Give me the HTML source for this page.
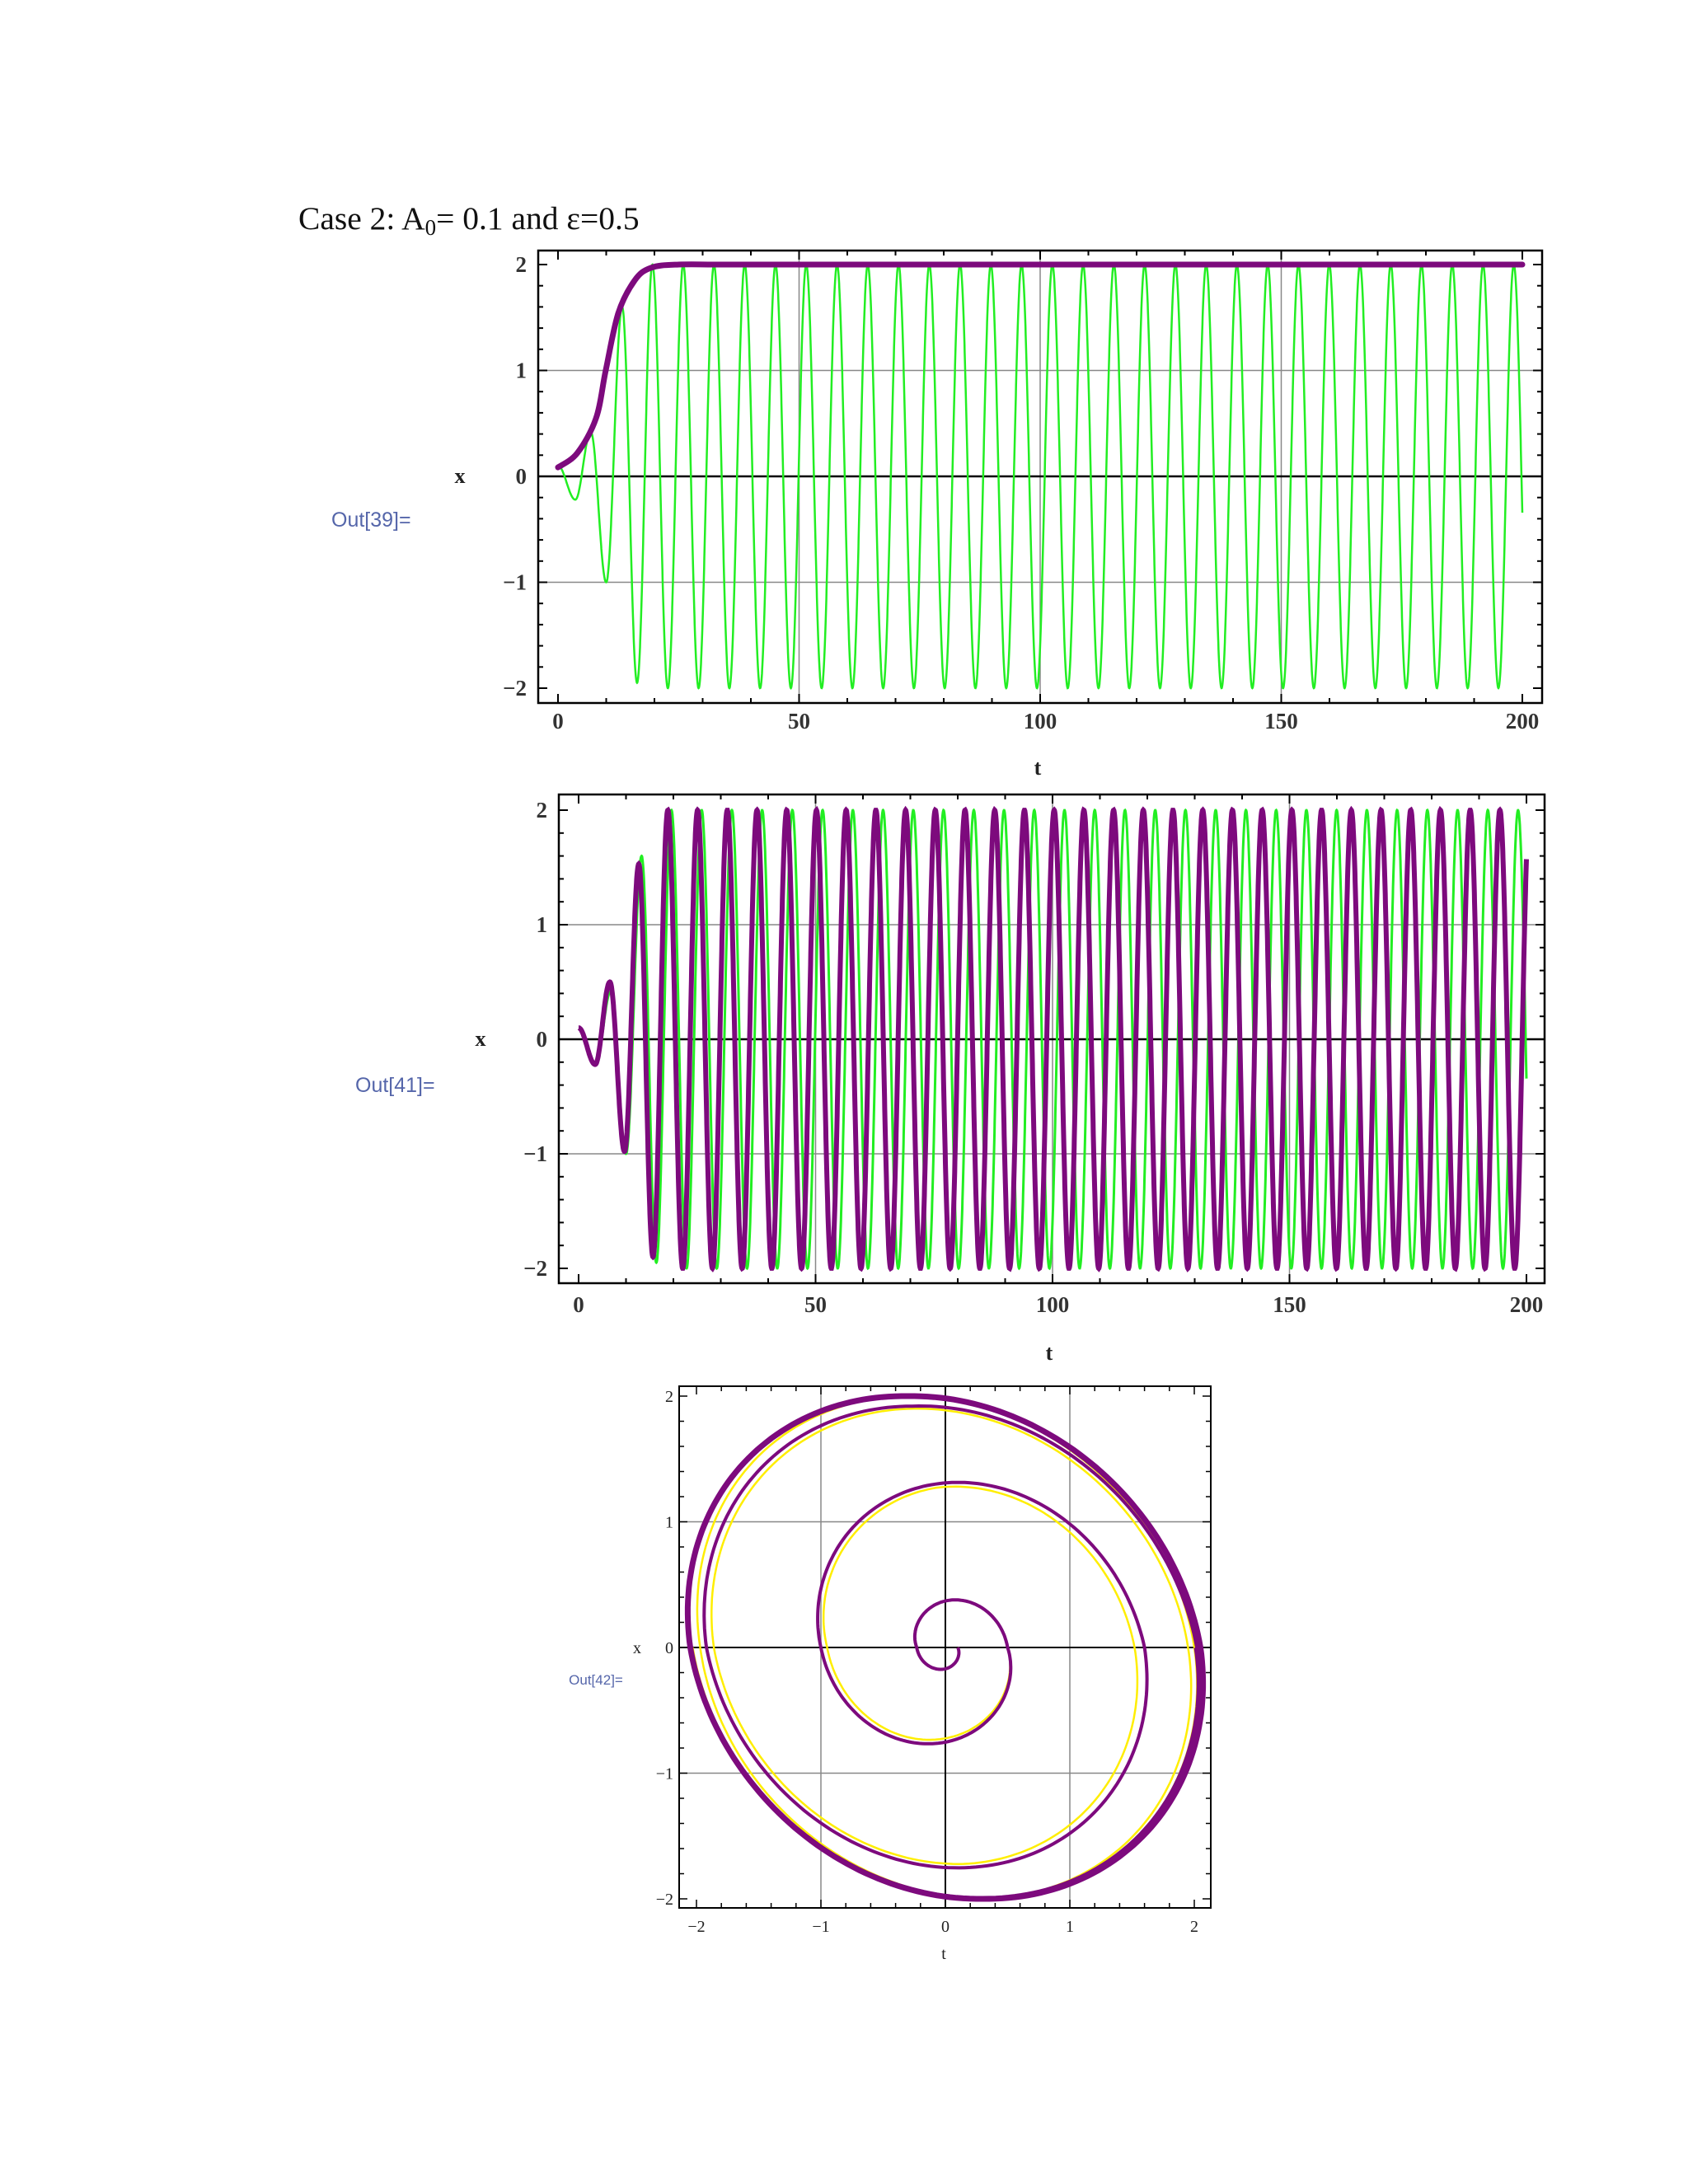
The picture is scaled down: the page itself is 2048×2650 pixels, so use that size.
<!DOCTYPE html>
<html><head><meta charset="utf-8"><style>
html,body{margin:0;padding:0;background:#fff;}
svg{display:block;}
</style></head><body>
<svg id="root" width="2048" height="2650" viewBox="0 0 2048 2650" xmlns="http://www.w3.org/2000/svg">
<rect x="0" y="0" width="2048" height="2650" fill="#fff"/>
<text x="362" y="278" font-family="Liberation Serif, serif" font-size="39.5" fill="#111">Case 2: A<tspan font-size="27" dy="7">0</tspan><tspan dy="-7">= 0.1 and ε=0.5</tspan></text>
</svg>
<script>
// ---------- data ----------
const plot1EnvT = [0, 4, 7.9, 9.9, 12.5, 15.9, 19.3, 25, 35, 60, 100, 150, 200];
const plot1EnvV = [0.085, 0.22, 0.55, 1.0, 1.54, 1.85, 1.97, 2.0, 2.0, 2.0, 2.0, 2.0, 2.0];
const greenTransT = [0, 3.6, 6.8, 10.0, 13.3, 16.4];
const greenTransV = [0.1, -0.22, 0.42, -1.0, 1.6, -1.95];
const greenPeriod = [6.38];
const greenAmp = [2.0];
const purpleTransT = [0, 3.5, 6.6, 9.7, 12.7, 15.7];
const purpleTransV = [0.1, -0.22, 0.5, -0.98, 1.53, -1.9];
const purplePeriod = [6.27];
const purpleAmp = [2.0];
const phasePurpleQuarters = [0.1,0.17,0.23,0.37,0.5,0.75,1.0,1.3,1.6,1.75,1.92,1.92,2.02,2.0,2.05,2.0,2.05,2.0,2.05,2.0,2.05];
const phaseYellowQuarters = [0.1,0.17,0.23,0.37,0.5,0.72,0.95,1.27,1.52,1.72,1.86,1.9,1.95,2.0,1.97,2.0,2.0,2.0,2.03];
const timeTicks = [0, 50, 100, 150, 200];
const timeTickLabels = ['0','50','100','150','200'];
const valueTicks = [-2, -1, 0, 1, 2];
const valueTickLabels = ['\u22122','\u22121','0','1','2'];

const NS = 'http://www.w3.org/2000/svg';
const root = document.getElementById('root');
function mk(tag, attrs, parent) {
  const el = document.createElementNS(NS, tag);
  for (const k in attrs) el.setAttribute(k, attrs[k]);
  (parent || root).appendChild(el);
  return el;
}
function catmull(pts) {
  let d = 'M' + pts[0][0].toFixed(1) + ',' + pts[0][1].toFixed(1);
  for (let i = 0; i < pts.length - 1; i++) {
    const p0 = pts[Math.max(0, i - 1)], p1 = pts[i], p2 = pts[i + 1], p3 = pts[Math.min(pts.length - 1, i + 2)];
    const c1x = p1[0] + (p2[0] - p0[0]) / 6, c1y = p1[1] + (p2[1] - p0[1]) / 6;
    const c2x = p2[0] - (p3[0] - p1[0]) / 6, c2y = p2[1] - (p3[1] - p1[1]) / 6;
    d += 'C' + c1x.toFixed(1) + ',' + c1y.toFixed(1) + ' ' + c2x.toFixed(1) + ',' + c2y.toFixed(1) + ' ' + p2[0].toFixed(1) + ',' + p2[1].toFixed(1);
  }
  return d;
}
function extremaSeries(tT, tV, period, amp, tMax) {
  const T = tT.slice(), V = tV.slice();
  let t = T[T.length - 1], sign = V[V.length - 1] < 0 ? 1 : -1;
  while (t < tMax + period) { t += period / 2; T.push(t); V.push(sign * amp); sign = -sign; }
  return [T, V];
}
function evalExtrema(T, V, t) {
  for (let i = 0; i < T.length - 1; i++) {
    if (t >= T[i] && t <= T[i + 1]) {
      const s = (t - T[i]) / (T[i + 1] - T[i]);
      return V[i] + (V[i + 1] - V[i]) * (1 - Math.cos(Math.PI * s)) / 2;
    }
  }
  return V[V.length - 1];
}

function timePlot(cfg) {
  const g = mk('g', {});
  
  
  const X = t => cfg.x0 + (t - 0) * (cfg.x200 - cfg.x0) / 200;
  const Y = v => cfg.y0 - v * cfg.unitY;
  [50, 100, 150].forEach(t => {
    const gl = mk('line', {x1: X(t), x2: X(t), y1: cfg.top, y2: cfg.bottom, stroke: '#888', 'stroke-width': 1.5}, g);
    
    
  });
  [-1, 1].forEach(v => {
    const gl = mk('line', {x1: cfg.left, x2: cfg.right, y1: Y(v), y2: Y(v), stroke: '#888', 'stroke-width': 1.5}, g);
    
    
  });
  const ax = mk('line', {x1: cfg.left, x2: cfg.right, y1: Y(0), y2: Y(0), stroke: '#000', 'stroke-width': 2.5}, g);
  
  
  for (let t = 0; t <= 200; t += 10) {
    const L = t % 50 === 0 ? 11 : 6;
    const tk1 = mk('line', {x1: X(t), x2: X(t), y1: cfg.bottom, y2: cfg.bottom - L, stroke: '#000', 'stroke-width': 2}, g);
    
    
    const tk2 = mk('line', {x1: X(t), x2: X(t), y1: cfg.top, y2: cfg.top + L, stroke: '#000', 'stroke-width': 2}, g);
    
    
  }
  for (let k = -10; k <= 10; k++) {
    const v = k / 5;
    const L = k % 5 === 0 ? 11 : 6;
    const tk1 = mk('line', {x1: cfg.left, x2: cfg.left + L, y1: Y(v), y2: Y(v), stroke: '#000', 'stroke-width': 2}, g);
    
    
    const tk2 = mk('line', {x1: cfg.right, x2: cfg.right - L, y1: Y(v), y2: Y(v), stroke: '#000', 'stroke-width': 2}, g);
    
    
  }
  timeTicks.forEach((t, i) => {
    const lb = mk('text', {x: X(t), y: cfg.xLabelY, 'text-anchor': 'middle', 'font-family': 'Liberation Serif, serif', 'font-size': 27, 'font-weight': 'bold', fill: '#333'}, g);
    lb.textContent = timeTickLabels[i];
    
    
  });
  valueTicks.forEach((v, i) => {
    const lb = mk('text', {x: cfg.left - 14, y: Y(v) + 9, 'text-anchor': 'end', 'font-family': 'Liberation Serif, serif', 'font-size': 27, 'font-weight': 'bold', fill: '#333'}, g);
    lb.textContent = valueTickLabels[i];
    
    
  });
  cfg.series(g, X, Y);
  const fr = mk('rect', {x: cfg.left, y: cfg.top, width: cfg.right - cfg.left, height: cfg.bottom - cfg.top, fill: 'none', stroke: '#000', 'stroke-width': 2.5}, g);
  
  
  const xl = mk('text', {x: cfg.xTitleX, y: cfg.xTitleY, 'text-anchor': 'middle', 'font-family': 'Liberation Serif, serif', 'font-size': 26, 'font-weight': 'bold', fill: '#222'}, g);
  xl.textContent = 't';
  
  
  const yl = mk('text', {x: cfg.yTitleX, y: Y(0) + 8, 'text-anchor': 'middle', 'font-family': 'Liberation Serif, serif', 'font-size': 26, 'font-weight': 'bold', fill: '#222'}, g);
  yl.textContent = 'x';
  
  
  const out = mk('text', {x: cfg.outX, y: cfg.outY, 'font-family': 'Liberation Sans, sans-serif', 'font-size': 25, fill: '#5566aa'}, g);
  out.textContent = cfg.outText;
  
  
}

function sampledPath(fn, X, Y) {
  let d = '';
  for (let t = 0; t <= 200.001; t += 0.05) {
    d += (d ? 'L' : 'M') + X(t).toFixed(1) + ',' + Y(fn(t)).toFixed(1);
  }
  return d;
}

const [gT, gV] = extremaSeries(greenTransT, greenTransV, greenPeriod[0], greenAmp[0], 200);
const [pT, pV] = extremaSeries(purpleTransT, purpleTransV, purplePeriod[0], purpleAmp[0], 200);

timePlot({name: 'plot-1', left: 653, right: 1871, top: 304, bottom: 853, x0: 677, x200: 1847, y0: 578, unitY: 128.5,
  xLabelY: 884, xTitleX: 1259, xTitleY: 940, yTitleX: 558, outX: 402, outY: 639, outText: 'Out[39]=',
  series: (g, X, Y) => {
    const gr = mk('path', {d: sampledPath(t => evalExtrema(gT, gV, t), X, Y), fill: 'none', stroke: '#22ee22', 'stroke-width': 2.5}, g);
    
    
    const pts = plot1EnvT.map((t, i) => [X(t), Y(plot1EnvV[i])]);
    const pu = mk('path', {d: catmull(pts), fill: 'none', stroke: '#7d0a7d', 'stroke-width': 7, 'stroke-linecap': 'round'}, g);
    
    
  }});

timePlot({name: 'plot-2', left: 678, right: 1874, top: 964, bottom: 1557, x0: 702, x200: 1852, y0: 1261, unitY: 139,
  xLabelY: 1592, xTitleX: 1273, xTitleY: 1650, yTitleX: 583, outX: 431, outY: 1325, outText: 'Out[41]=',
  series: (g, X, Y) => {
    const gr = mk('path', {d: sampledPath(t => evalExtrema(gT, gV, t), X, Y), fill: 'none', stroke: '#22ee22', 'stroke-width': 3}, g);
    
    
    const pu = mk('path', {d: sampledPath(t => evalExtrema(pT, pV, t), X, Y), fill: 'none', stroke: '#7d0a7d', 'stroke-width': 6}, g);
    
    
  }});

// ---------- phase plot ----------
(function () {
  const left = 824, right = 1469, top = 1682, bottom = 2315, cx = 1147, cy = 1999, ux = 151, uy = 152.5;
  const X = v => cx + v * ux, Y = v => cy - v * uy;
  const g = mk('g', {});
  
  
  [-1, 1].forEach(v => {
    const a = mk('line', {x1: X(v), x2: X(v), y1: top, y2: bottom, stroke: '#888', 'stroke-width': 1.5}, g);
    
    
    const b = mk('line', {x1: left, x2: right, y1: Y(v), y2: Y(v), stroke: '#888', 'stroke-width': 1.5}, g);
    
    
  });
  const ax1 = mk('line', {x1: X(0), x2: X(0), y1: top, y2: bottom, stroke: '#000', 'stroke-width': 2}, g);
  
  
  const ax2 = mk('line', {x1: left, x2: right, y1: Y(0), y2: Y(0), stroke: '#000', 'stroke-width': 2}, g);
  
  
  for (let k = -10; k <= 10; k++) {
    const v = k / 5, L = k % 5 === 0 ? 10 : 6;
    [[X(v), bottom, X(v), bottom - L], [X(v), top, X(v), top + L], [left, Y(v), left + L, Y(v)], [right, Y(v), right - L, Y(v)]].forEach(c => {
      const tk = mk('line', {x1: c[0], y1: c[1], x2: c[2], y2: c[3], stroke: '#000', 'stroke-width': 1.5}, g);
      
      
    });
  }
  valueTicks.forEach((v, i) => {
    const a = mk('text', {x: X(v), y: 2344, 'text-anchor': 'middle', 'font-family': 'Liberation Serif, serif', 'font-size': 20, fill: '#222'}, g);
    a.textContent = valueTickLabels[i];
    
    
    const b = mk('text', {x: left - 7, y: Y(v) + 7, 'text-anchor': 'end', 'font-family': 'Liberation Serif, serif', 'font-size': 20, fill: '#222'}, g);
    b.textContent = valueTickLabels[i];
    
    
  });
  function spiral(q, from, to) {
    let d = '';
    const n = 60;
    for (let i = from; i < Math.min(to, q.length - 1); i++) {
      for (let j = (d ? 1 : 0); j <= n; j++) {
        const s = j / n;
        const r = q[i] + (q[i + 1] - q[i]) * s;
        const th = -(i + s) * Math.PI / 2;
        const k = 0.15 * Math.pow(r / 2, 2);
        const xv = r * Math.cos(th) - k * r * Math.sin(th);
        const yv = r * Math.sin(th);
        d += (d ? 'L' : 'M') + X(xv).toFixed(1) + ',' + Y(yv).toFixed(1);
      }
    }
    return d;
  }
  const y1 = mk('path', {d: spiral(phaseYellowQuarters, 0, 99), fill: 'none', stroke: '#ffee00', 'stroke-width': 2.5}, g);
  
  
  const p1 = mk('path', {d: spiral(phasePurpleQuarters, 0, 13), fill: 'none', stroke: '#7d0a7d', 'stroke-width': 4}, g);
  
  
  const p2 = mk('path', {d: spiral(phasePurpleQuarters, 12, 99), fill: 'none', stroke: '#7d0a7d', 'stroke-width': 7}, g);
  
  
  const fr = mk('rect', {x: left, y: top, width: right - left, height: bottom - top, fill: 'none', stroke: '#000', 'stroke-width': 2}, g);
  
  
  const xt = mk('text', {x: 1145, y: 2377, 'text-anchor': 'middle', 'font-family': 'Liberation Serif, serif', 'font-size': 20, fill: '#222'}, g);
  xt.textContent = 't';
  
  
  const yt = mk('text', {x: 773, y: 2006, 'text-anchor': 'middle', 'font-family': 'Liberation Serif, serif', 'font-size': 20, fill: '#222'}, g);
  yt.textContent = 'x';
  
  
  const out = mk('text', {x: 723, y: 2044, 'text-anchor': 'middle', 'font-family': 'Liberation Sans, sans-serif', 'font-size': 17, fill: '#5566aa'}, g);
  out.textContent = 'Out[42]=';
  
  
})();
</script>
</body></html>
